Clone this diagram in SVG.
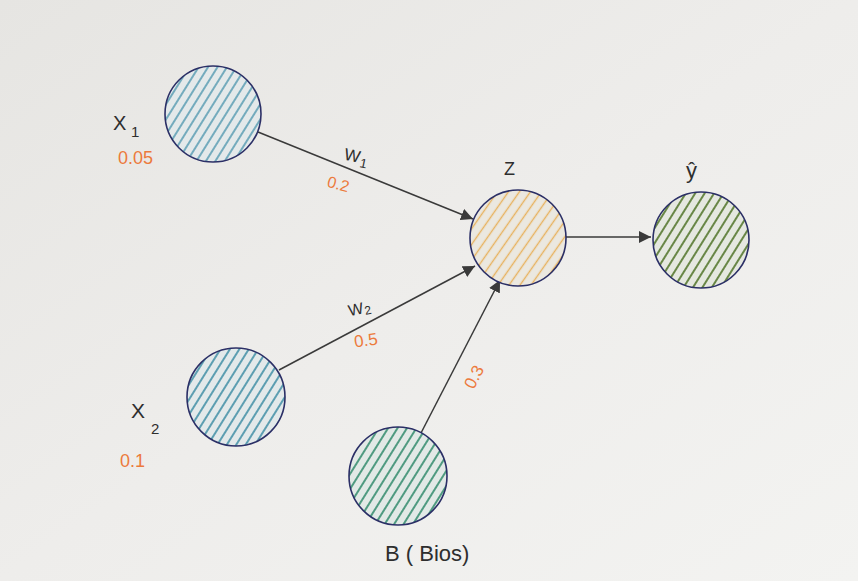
<svg xmlns="http://www.w3.org/2000/svg" width="858" height="581" viewBox="0 0 858 581">
<style>
.node{stroke:#2b2f66;stroke-width:1.6}
.lbl{font-family:"Liberation Sans","DejaVu Sans",sans-serif;fill:#2e2e2e}
.num{font-family:"Liberation Sans","DejaVu Sans",sans-serif;fill:#ec7a3c}
.edge{stroke:#3a3a3a;stroke-width:1.5;fill:none;marker-end:url(#arr)}
</style>
<defs>
<linearGradient id="bg" x1="0" y1="0" x2="1" y2="1">
<stop offset="0" stop-color="#e6e5e2"/>
<stop offset="0.5" stop-color="#eeedeb"/>
<stop offset="1" stop-color="#f3f3f1"/>
</linearGradient>
<pattern id="hX1" width="8" height="8" patternUnits="userSpaceOnUse" patternTransform="rotate(32)">
<rect width="8" height="8" fill="#e4e9ea"/><line x1="4" y1="0" x2="4" y2="8" stroke="#4f97ae" stroke-width="1.5"/></pattern>
<pattern id="hX2" width="8" height="8" patternUnits="userSpaceOnUse" patternTransform="rotate(32)">
<rect width="8" height="8" fill="#e3e9ea"/><line x1="4" y1="0" x2="4" y2="8" stroke="#3a8ba3" stroke-width="1.6"/></pattern>
<pattern id="hB" width="8" height="8" patternUnits="userSpaceOnUse" patternTransform="rotate(32)">
<rect width="8" height="8" fill="#e2e9e6"/><line x1="4" y1="0" x2="4" y2="8" stroke="#2a8767" stroke-width="1.6"/></pattern>
<pattern id="hZ" width="9" height="9" patternUnits="userSpaceOnUse" patternTransform="rotate(35)">
<rect width="9" height="9" fill="#ebe8e0"/><line x1="4.5" y1="0" x2="4.5" y2="9" stroke="#e8b25e" stroke-width="1.4"/></pattern>
<pattern id="hY" width="8" height="8" patternUnits="userSpaceOnUse" patternTransform="rotate(32)">
<rect width="8" height="8" fill="#e5e8e0"/><line x1="4" y1="0" x2="4" y2="8" stroke="#52752b" stroke-width="1.7"/></pattern>
<marker id="arr" markerUnits="userSpaceOnUse" markerWidth="14" markerHeight="12" refX="12" refY="6" orient="auto">
<path d="M0,0 L12,6 L0,12 Z" fill="#3a3a3a"/>
</marker>
</defs>
<rect width="858" height="581" fill="url(#bg)"/>
<g id="connectors">
<line class="edge" x1="258" y1="132" x2="473" y2="219"/>
<line class="edge" x1="279" y1="370" x2="475" y2="266"/>
<line class="edge" x1="421" y1="433" x2="500" y2="280"/>
<line class="edge" x1="566" y1="237" x2="651" y2="237"/>
</g>
<g id="x1">
<circle class="node" cx="213" cy="114" r="48" fill="url(#hX1)"/>
<text class="lbl" x="113" y="130" font-size="20">X</text>
<text class="lbl" x="131" y="137" font-size="15">1</text>
<text class="num" x="118" y="164" font-size="18">0.05</text>
</g>
<g id="x2">
<circle class="node" cx="236" cy="397" r="49" fill="url(#hX2)"/>
<text class="lbl" x="131" y="418" font-size="21">X</text>
<text class="lbl" x="151" y="434" font-size="15">2</text>
<text class="num" x="120" y="467" font-size="18">0.1</text>
</g>
<g id="b">
<circle class="node" cx="398" cy="476" r="49" fill="url(#hB)"/>
<text class="lbl" x="385" y="561" font-size="22">B ( Bios)</text>
</g>
<g id="z">
<circle class="node" cx="518" cy="238" r="48" fill="url(#hZ)"/>
<text class="lbl" x="504" y="175" font-size="18">Z</text>
</g>
<g id="yhat">
<circle class="node" cx="701" cy="240" r="48" fill="url(#hY)"/>
<text class="lbl" x="686" y="178" font-size="22">ŷ</text>
</g>
<g id="edge-labels">
<text class="lbl" x="344" y="162" font-size="17" transform="rotate(12 355 157)">W</text>
<text class="lbl" x="361" y="166" font-size="13" transform="rotate(12 355 157)">1</text>
<text class="num" x="327" y="190" font-size="16" transform="rotate(15 340 185)">0.2</text>
<text class="lbl" x="348" y="314" font-size="16" transform="rotate(-12 360 308)">W</text>
<text class="lbl" x="364" y="316" font-size="12" transform="rotate(-12 360 308)">2</text>
<text class="num" x="354" y="346" font-size="17" transform="rotate(-8 366 340)">0.5</text>
<text class="num" x="462" y="385" font-size="17" transform="rotate(-63 472 378)">0.3</text>
</g>
</svg>
